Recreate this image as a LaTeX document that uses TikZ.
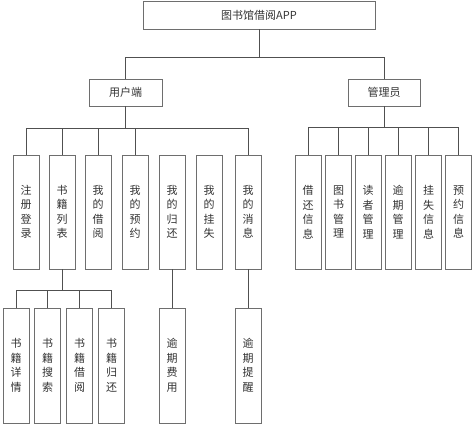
\documentclass[tikz,border=0pt]{standalone}
\usepackage{fontspec}
\newfontfamily\cjk{Noto Sans CJK SC}
\definecolor{boxline}{HTML}{6E6E6E}
\definecolor{conline}{HTML}{505050}
\begin{document}
\begin{tikzpicture}[x=1pt,y=-1pt,
  box/.style={draw=boxline,line width=0.9pt,fill=white,inner sep=0pt,
    font=\cjk\fontsize{11}{14.5}\selectfont,text=black!80,align=center},
  hbox/.style={box,minimum height=27pt},
  vbox/.style={box,minimum width=26pt,minimum height=114pt},
  con/.style={draw=conline,line width=0.8pt}]
\useasboundingbox (0,0) rectangle (474,425);
% root and level 1
\node[hbox,minimum width=232pt,minimum height=28pt] (root) at (259,15) {图书馆借阅APP};
\node[hbox,minimum width=73pt] (user) at (125.5,92.5) {用户端};
\node[hbox,minimum width=72pt] (admin) at (384,92.5) {管理员};
% user children
\node[vbox] (u1) at (26,212) {注\\册\\登\\录};
\node[vbox] (u2) at (62,212) {书\\籍\\列\\表};
\node[vbox] (u3) at (98,212) {我\\的\\借\\阅};
\node[vbox] (u4) at (135,212) {我\\的\\预\\约};
\node[vbox] (u5) at (172,212) {我\\的\\归\\还};
\node[vbox] (u6) at (209,212) {我\\的\\挂\\失};
\node[vbox] (u7) at (248,212) {我\\的\\消\\息};
% admin children
\node[vbox] (a1) at (308,212) {借\\还\\信\\息};
\node[vbox] (a2) at (338.5,212) {图\\书\\管\\理};
\node[vbox] (a3) at (368,212) {读\\者\\管\\理};
\node[vbox] (a4) at (398,212) {逾\\期\\管\\理};
\node[vbox] (a5) at (428.5,212) {挂\\失\\信\\息};
\node[vbox] (a6) at (458.5,212) {预\\约\\信\\息};
% level 3
\node[vbox,minimum height=115pt] (s1) at (16,365.5) {书\\籍\\详\\情};
\node[vbox,minimum height=115pt] (s2) at (47.5,365.5) {书\\籍\\搜\\索};
\node[vbox,minimum height=115pt] (s3) at (79.5,365.5) {书\\籍\\借\\阅};
\node[vbox,minimum height=115pt] (s4) at (111.5,365.5) {书\\籍\\归\\还};
\node[vbox,minimum height=115pt] (v1) at (172,365.5) {逾\\期\\费\\用};
\node[vbox,minimum height=115pt] (v2) at (248,365.5) {逾\\期\\提\\醒};
% bus coordinates
\coordinate (b1) at (0,57);
\coordinate (b2) at (0,128);
\coordinate (b3) at (0,127);
\coordinate (b4) at (0,290);
% connectors
\draw[con] (root.south) -- (root.south |- b1);
\draw[con] (user.north) |- (admin.north |- b1) -- (admin.north);
\draw[con] (user.south) -- (user.south |- b2);
\draw[con] (u1.north) |- (u7.north |- b2) -- (u7.north);
\foreach \n in {u2,u3,u4} \draw[con] (\n.north) -- (\n.north |- b2);
\draw[con] (admin.south) -- (admin.south |- b3);
\draw[con] (a1.north) |- (a6.north |- b3) -- (a6.north);
\foreach \n in {a2,a3,a4,a5} \draw[con] (\n.north) -- (\n.north |- b3);
\draw[con] (u2.south) -- (u2.south |- b4);
\draw[con] (s1.north) |- (s4.north |- b4) -- (s4.north);
\foreach \n in {s2,s3} \draw[con] (\n.north) -- (\n.north |- b4);
\draw[con] (u5.south) -- (v1.north);
\draw[con] (u7.south) -- (v2.north);
\end{tikzpicture}
\end{document}
